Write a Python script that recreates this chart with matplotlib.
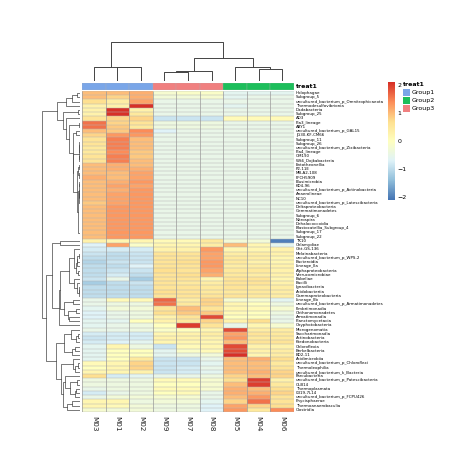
import numpy as np
import matplotlib
matplotlib.use("Agg")
import matplotlib.pyplot as plt
from matplotlib.colors import LinearSegmentedColormap, Normalize
from matplotlib.patches import Rectangle

samples = ["M03","M01","M02","M09","M07","M08","M05","M04","M06"]
groups = ["Group1","Group1","Group1","Group3","Group3","Group3","Group2","Group2","Group2"]
group_colors = {"Group1":"#7AA6E8","Group2":"#1DBE5B","Group3":"#F08080"}

taxa = ["Holophagae","Subgroup_5","uncultured_bacterium_p_Omnitrophicaeota","Thermodesulfovibrionia",
"Dadabacteria","Subgroup_25","AD3","Pla3_lineage","ABY1","uncultured_bacterium_p_GAL15","JG30-KF-CM66",
"Subgroup_11","Subgroup_26","uncultured_bacterium_p_Zixibacteria","Pla4_lineage","OM190","WS6_Dojkabacteria",
"Entotheonellia","P2-11E","MB-A2-108","FFCH5909","Elusimicrobia","KD4-96","uncultured_bacterium_p_Actinobacteria",
"Anaerolineae","NC10","uncultured_bacterium_p_Latescibacteria","Deltaproteobacteria","Gemmatimonadetes",
"Subgroup_6","Nitrospira","Dehalococcoidia","Blastocatellia_Subgroup_4","Subgroup_17","Subgroup_22","TK10",
"Chlamydiae","Gitt-GS-136","Melainabacteria","uncultured_bacterium_p_WPS-2","Bacteroidia","Lineage_IIa",
"Alphaproteobacteria","Verrucomicrobiae","Babeliae","Bacilli","Ignavibacteria","Acidobacteriia",
"Gammaproteobacteria","Lineage_IIb","uncultured_bacterium_p_Armatimonadetes","Fimbriimonadia",
"Chthonomonadetes","Armatimonadia","Planctomycetacia","Oxyphotobacteria","Microgenomatia","Saccharimonadia",
"Actinobacteria","Ktedonobacteria","Chloroflexia","Berkelbacteria","BD2-11","Acidimicrobiia",
"uncultured_bacterium_p_Chloroflexi","Thermoleophilia","uncultured_bacterium_k_Bacteria","Parcubacteria",
"uncultured_bacterium_p_Patescibacteria","OLB14","Thermoplasmata","0319-7L14","uncultured_bacterium_p_FCPU426",
"Phycisphaerae","Thermoanaerobaculia","Clostridia"]

values = [
[1.0,1.0,1.1,-0.2,-0.1,-0.1,-0.6,-0.6,-0.6],
[1.0,0.8,1.1,-0.3,-0.3,-0.2,-0.6,-0.5,-0.5],
[0.7,0.4,1.2,-0.5,-0.5,-0.5,-0.5,-0.5,-0.5],
[0.3,0.3,2.3,-0.5,-0.5,-0.5,-0.6,-0.5,-0.5],
[0.3,2.3,0.3,-0.5,-0.5,-0.5,-0.5,-0.5,-0.5],
[0.3,2.2,0.5,-0.5,-0.5,-0.5,-0.5,-0.5,-0.5],
[0.6,0.8,0.8,-0.9,-0.9,-0.9,0.1,0.1,0.1],
[1.6,0.8,0.6,-0.4,-0.4,-0.4,-0.5,-0.5,-0.5],
[1.6,0.9,0.5,-0.4,-0.4,-0.4,-0.5,-0.5,-0.5],
[1.0,0.9,1.4,-0.7,-0.5,-0.5,-0.5,-0.5,-0.5],
[0.8,1.3,1.3,-0.5,-0.5,-0.5,-0.5,-0.5,-0.5],
[0.6,1.5,1.0,-0.5,-0.5,-0.5,-0.5,-0.5,-0.5],
[0.6,1.5,1.0,-0.5,-0.5,-0.5,-0.5,-0.5,-0.5],
[0.5,1.5,1.0,-0.5,-0.5,-0.5,-0.5,-0.5,-0.5],
[0.5,1.4,0.9,-0.5,-0.5,-0.5,-0.5,-0.5,-0.5],
[0.6,1.5,0.9,-0.5,-0.5,-0.5,-0.5,-0.5,-0.5],
[0.6,1.5,1.0,-0.5,-0.5,-0.5,-0.5,-0.5,-0.5],
[1.0,1.1,1.0,-0.5,-0.5,-0.5,-0.5,-0.5,-0.5],
[1.0,1.1,1.1,-0.5,-0.5,-0.5,-0.5,-0.5,-0.5],
[1.0,1.0,1.2,-0.5,-0.5,-0.5,-0.5,-0.5,-0.5],
[1.1,1.0,1.2,-0.5,-0.5,-0.5,-0.5,-0.5,-0.5],
[1.0,1.1,1.3,-0.5,-0.5,-0.5,-0.5,-0.5,-0.5],
[1.0,1.2,1.2,-0.5,-0.5,-0.5,-0.5,-0.5,-0.5],
[1.0,1.1,1.3,-0.5,-0.5,-0.5,-0.5,-0.5,-0.5],
[1.0,1.2,1.3,-0.5,-0.5,-0.5,-0.5,-0.5,-0.5],
[1.0,1.2,1.3,-0.5,-0.5,-0.5,-0.5,-0.5,-0.5],
[0.9,1.2,1.3,-0.5,-0.5,-0.5,-0.5,-0.5,-0.5],
[1.0,1.3,1.3,-0.5,-0.5,-0.5,-0.5,-0.5,-0.5],
[1.0,1.3,1.3,-0.5,-0.5,-0.5,-0.5,-0.5,-0.5],
[1.0,1.3,1.3,-0.5,-0.5,-0.5,-0.5,-0.5,-0.5],
[1.0,1.3,1.3,-0.5,-0.5,-0.5,-0.5,-0.5,-0.5],
[1.0,1.3,1.3,-0.5,-0.5,-0.5,-0.5,-0.5,-0.5],
[1.0,1.3,1.3,-0.5,-0.5,-0.5,-0.5,-0.5,-0.5],
[1.0,1.3,1.3,-0.5,-0.5,-0.5,-0.5,-0.5,-0.5],
[1.0,1.3,1.3,-0.5,-0.5,-0.5,-0.5,-0.5,-0.5],
[0.3,0.2,0.2,0.1,0.1,0.5,-0.3,-0.3,-2.0],
[-0.7,1.2,-0.1,0.2,0.2,0.4,1.0,0.2,-0.6],
[-0.8,-0.8,-0.8,0.3,0.3,1.3,0.2,0.2,0.3],
[-0.9,-1.0,-0.9,0.6,0.6,1.2,0.4,0.4,0.3],
[-1.0,-1.0,-0.9,0.6,0.6,1.2,0.5,0.4,0.2],
[-1.1,-0.9,-0.9,0.6,0.7,1.3,0.5,0.3,0.2],
[-1.0,-1.0,-0.7,0.6,0.6,1.3,0.4,0.4,0.3],
[-1.0,-0.9,-0.9,0.7,0.6,1.2,0.5,0.5,0.3],
[-1.0,-0.8,-1.0,0.6,0.7,1.1,0.5,0.4,0.3],
[-0.9,-0.5,-1.2,0.6,0.6,0.2,0.6,0.6,0.2],
[-1.2,-1.0,-0.9,0.6,0.5,0.4,0.6,0.6,0.3],
[-1.0,-1.0,-1.0,0.6,0.6,0.5,0.6,0.5,0.4],
[-1.0,-1.0,-1.0,0.7,0.6,0.5,0.5,0.5,0.4],
[-1.0,-1.0,-1.0,0.6,0.6,0.6,0.6,0.5,0.4],
[-0.5,0.1,0.1,1.7,0.4,0.8,-0.2,-0.2,-0.6],
[-0.5,-0.4,-0.4,1.6,0.5,0.8,0.2,0.0,-0.4],
[-0.6,-0.3,-0.3,0.6,1.0,0.6,0.2,0.1,-0.2],
[-0.7,-0.5,-0.4,0.7,0.9,0.9,0.1,0.0,-0.4],
[-0.7,-0.5,-0.4,0.3,0.6,1.9,0.0,0.0,-0.5],
[-0.6,-0.6,0.0,0.3,0.5,0.8,0.3,0.7,-0.5],
[-0.6,-0.5,-0.4,0.0,2.0,0.6,-0.5,0.2,-0.2],
[-0.5,-0.5,-0.4,-0.1,0.0,0.2,1.9,0.4,0.4],
[-0.8,-0.8,-0.8,0.2,0.3,0.4,1.2,0.6,0.5],
[-0.9,-0.8,-0.8,0.3,0.3,0.3,1.3,0.5,0.5],
[-0.8,-0.7,-0.6,0.2,0.2,0.2,1.0,0.6,0.6],
[-0.6,0.2,-0.4,-0.9,0.1,0.2,1.9,0.3,0.3],
[-0.6,0.0,0.0,-0.6,-0.1,0.1,1.9,0.3,0.4],
[-0.6,0.0,0.0,-0.6,-0.4,-0.3,2.2,0.2,0.4],
[-0.6,0.0,0.5,-0.9,-0.9,-0.5,1.0,1.1,0.7],
[0.1,0.2,0.8,-0.9,-0.9,-0.6,1.0,1.0,0.5],
[0.0,0.2,0.8,-0.9,-0.8,-0.5,1.0,1.0,0.6],
[0.2,0.2,0.3,-0.9,-0.8,-0.6,1.0,1.1,0.8],
[0.7,-0.8,-0.6,-0.5,-0.5,-0.4,0.8,1.0,0.8],
[-0.4,-0.4,-0.4,0.1,0.1,-0.2,0.7,2.0,0.3],
[-0.4,-0.4,-0.4,0.0,0.0,-0.2,1.0,2.0,0.5],
[-0.5,-0.4,-0.4,0.1,0.1,-0.2,1.1,1.0,0.7],
[-0.8,-0.5,-0.4,0.0,0.1,-0.5,1.1,1.1,0.8],
[-0.5,-0.3,-0.3,-0.2,-0.2,-0.5,1.0,1.3,0.6],
[0.2,0.2,-0.4,-0.3,-0.3,-0.6,0.8,1.6,0.6],
[0.2,0.1,-0.3,-0.4,-0.4,-0.7,1.2,0.8,0.7],
[-0.2,-0.3,-0.3,-0.4,-0.4,-0.7,1.3,0.5,1.4],
]
data = np.array(values)
nr, nc = data.shape

cmap = LinearSegmentedColormap.from_list("pheat", ["#4575B4","#91BFDB","#E0F3F8","#FFFFBF","#FEE090","#FC8D59","#D73027"])
norm = Normalize(vmin=-2.1, vmax=2.1)

def constrained_linkage(X, method="average"):
    # agglomerative clustering merging only adjacent clusters (keeps leaf order)
    clusters = [([i], float(i), 0.0) for i in range(len(X))]
    merges = []
    agg = np.max if method == "complete" else np.mean
    while len(clusters) > 1:
        best, bi = None, 0
        for k in range(len(clusters) - 1):
            a, b = clusters[k][0], clusters[k+1][0]
            d = agg([np.linalg.norm(X[i]-X[j]) for i in a for j in b])
            if best is None or d < best:
                best, bi = d, k
        a, b = clusters[bi], clusters[bi+1]
        h = max(best, a[2], b[2])
        merges.append((a[1], a[2], b[1], b[2], h))
        clusters[bi:bi+2] = [(a[0]+b[0], (a[1]+b[1])/2, h)]
    return merges

W, H = 474, 474
fig = plt.figure(figsize=(4.74, 4.74), dpi=100)
def ax_px(x0, y0, x1, y1):
    return fig.add_axes([x0/W, 1-y1/H, (x1-x0)/W, (y1-y0)/H])

hx0, hx1, hy0, hy1 = 82, 294, 91, 412
ax = ax_px(hx0, hy0, hx1, hy1)
ax.pcolormesh(np.arange(nc+1), np.arange(nr+1), data, cmap=cmap, norm=norm, edgecolors="none")
ax.hlines(np.arange(nr+1), 0, nc, color="#b4b4b4", lw=0.35)
ax.vlines(np.arange(nc+1), 0, nr, color="#9a9a9a", lw=0.5)
ax.set_xlim(0, nc); ax.set_ylim(nr, 0)
ax.set_xticks([]); ax.set_yticks([])
for s in ax.spines.values(): s.set_visible(False)
for i, t in enumerate(taxa):
    ax.text(nc + 0.08, i + 0.5, t, fontsize=2.9, va="center", ha="left")
for j, s in enumerate(samples):
    ax.text(j + 0.5, nr + 1.0, s, fontsize=5.2, rotation=270, va="top", ha="center", color="#222222")

# annotation bar
axa = ax_px(hx0, 83, hx1, 89.5)
for j, g in enumerate(groups):
    axa.add_patch(Rectangle((j, 0), 1, 1, facecolor=group_colors[g], edgecolor="#b0b0b0", lw=0.2))
axa.set_xlim(0, nc); axa.set_ylim(0, 1); axa.axis("off")
axa.text(nc + 0.08, 0.5, "treat1", fontsize=4.5, fontweight="bold", va="center", ha="left")

# column dendrogram
axc = ax_px(hx0, 40, hx1, 81)
for x1, h1, x2, h2, h in constrained_linkage(data.T, "average"):
    axc.plot([x1+0.5, x1+0.5, x2+0.5, x2+0.5], [h1, h, h, h2], color="#444444", lw=0.7)
axc.set_xlim(0, nc); axc.set_ylim(0, None); axc.axis("off")

# row dendrogram
axr = ax_px(40, hy0, 80, hy1)
for y1, h1, y2, h2, h in constrained_linkage(data, "complete"):
    axr.plot([h1, h, h, h2], [y1+0.5, y1+0.5, y2+0.5, y2+0.5], color="#444444", lw=0.5)
axr.set_ylim(nr, 0); axr.invert_xaxis(); axr.set_xlim(None, 0); axr.axis("off")

# colorbar
axb = ax_px(388, 82, 395, 200)
grad = np.linspace(norm.vmin, norm.vmax, 200).reshape(-1, 1)
axb.imshow(grad, aspect="auto", cmap=cmap, norm=norm, origin="lower", extent=[0, 1, norm.vmin, norm.vmax])
axb.set_xticks([])
axb.yaxis.tick_right()
axb.set_yticks([-2, -1, 0, 1, 2])
axb.tick_params(axis="y", length=0, labelsize=4.5, pad=2)
for s in axb.spines.values(): s.set_visible(False)

# group legend
fig.text(403/W, 1-85/H, "treat1", fontsize=4.5, fontweight="bold", va="center", ha="left")
for k, g in enumerate(["Group1", "Group2", "Group3"]):
    y = 89 + k*8
    fig.patches.append(Rectangle((403/W, 1-(y+7)/H), 7/W, 7/H, transform=fig.transFigure,
                                 facecolor=group_colors[g], edgecolor="none"))
    fig.text(412/W, 1-(y+3.5)/H, g, fontsize=4.5, va="center", ha="left")

fig.savefig("out.png", dpi=100, facecolor="white")
